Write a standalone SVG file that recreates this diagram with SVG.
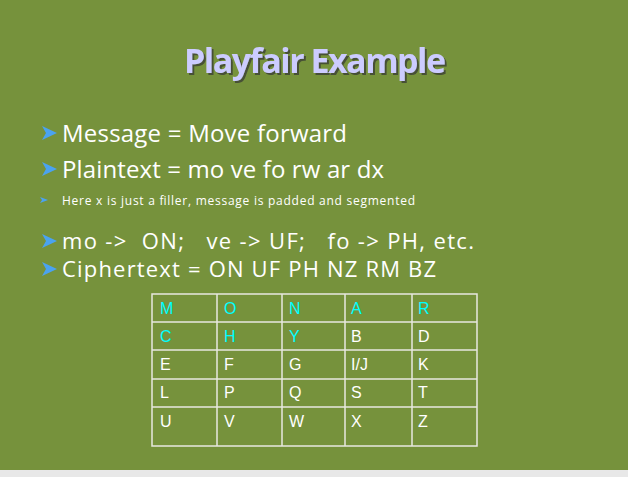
<svg xmlns="http://www.w3.org/2000/svg" width="628" height="477" viewBox="0 0 628 477">
<defs>
<filter id="sh" x="-10%" y="-20%" width="120%" height="150%"><feDropShadow dx="2" dy="2" stdDeviation="0.6" flood-color="#333" flood-opacity="0.7"/></filter>
</defs>
<style>
.t{font-family:"Open Sans","Liberation Sans",sans-serif;fill:#fff}
.b{fill:#4aa3f0}
.c{font-family:"Liberation Sans",Arial,sans-serif;font-size:16px;fill:#fff}
.k{fill:#00ffff}
</style>
<rect width="628" height="477" fill="#e8e8e8"/>
<rect width="628" height="470" fill="#76923c"/>
<g id="title">
<text x="315" y="73" text-anchor="middle" font-family="'Open Sans','Liberation Sans',sans-serif" font-size="34" font-weight="bold" fill="#ccccff" textLength="262" filter="url(#sh)">Playfair Example</text>
</g>
<g id="bullets">
<path class="b" d="M42,126 L57,133 L42,140 L46,133Z"/>
<text x="62" y="142" class="t" font-size="24" textLength="285">Message = Move forward</text>
<path class="b" d="M42,162 L57,169 L42,176 L46,169Z"/>
<text x="62" y="178" class="t" font-size="24" textLength="322">Plaintext = mo ve fo rw ar dx</text>
<path class="b" d="M40,197 L48,200 L40,203 L42,200Z"/>
<text x="62" y="205" class="t" font-size="12" textLength="353">Here x is just a filler, message is padded and segmented</text>
<path class="b" d="M42,234 L57,241 L42,248 L46,241Z"/>
<text x="62" y="249" class="t" font-size="22" textLength="412" xml:space="preserve">mo -&gt;  ON;   ve -&gt; UF;   fo -&gt; PH, etc.</text>
<path class="b" d="M42,262 L57,269 L42,276 L46,269Z"/>
<text x="62" y="277" class="t" font-size="22" textLength="374">Ciphertext = ON UF PH NZ RM BZ</text>
</g>
<g id="table" stroke="#e8e8e0" stroke-width="1.5" fill="none">
<rect x="152" y="294" width="325" height="152"/>
<path d="M217,294V446M282,294V446M345,294V446M412,294V446M152,322H477M152,350H477M152,379H477M152,407H477"/>
</g>
<g id="cells" class="c">
<text x="160" y="314" class="k">M</text><text x="224" y="314" class="k">O</text><text x="289" y="314" class="k">N</text><text x="351" y="314" class="k">A</text><text x="418" y="314" class="k">R</text>
<text x="160" y="342" class="k">C</text><text x="224" y="342" class="k">H</text><text x="289" y="342" class="k">Y</text><text x="351" y="342">B</text><text x="418" y="342">D</text>
<text x="160" y="370">E</text><text x="224" y="370">F</text><text x="289" y="370">G</text><text x="351" y="370">I/J</text><text x="418" y="370">K</text>
<text x="160" y="398">L</text><text x="224" y="398">P</text><text x="289" y="398">Q</text><text x="351" y="398">S</text><text x="418" y="398">T</text>
<text x="160" y="427">U</text><text x="224" y="427">V</text><text x="289" y="427">W</text><text x="351" y="427">X</text><text x="418" y="427">Z</text>
</g>
</svg>
